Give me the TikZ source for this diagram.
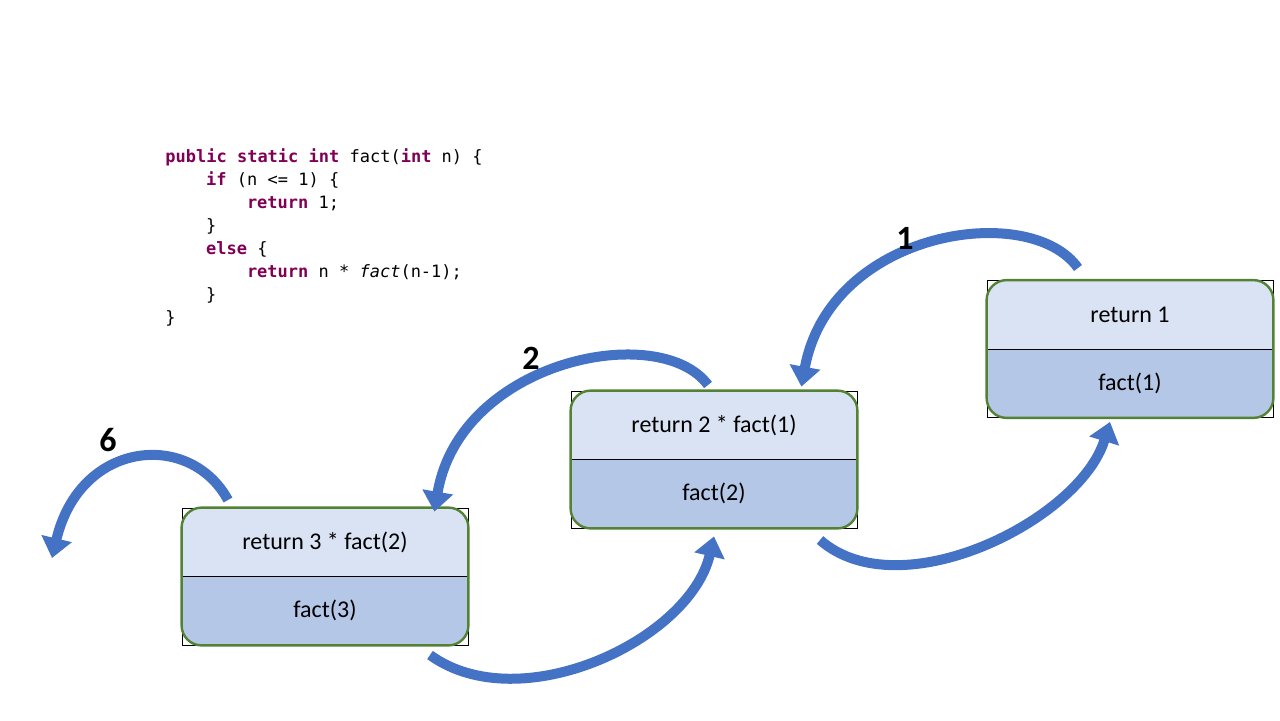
\documentclass[tikz,border=0pt]{standalone}
\usepackage{fontspec}
\setmainfont{Carlito}
\newfontfamily\codefont{DejaVu Sans Mono}
\usetikzlibrary{arrows.meta}
\definecolor{topfill}{HTML}{DAE3F3}
\definecolor{botfill}{HTML}{B4C7E7}
\definecolor{frame}{HTML}{548235}
\definecolor{arrowblue}{HTML}{4472C4}
\definecolor{kw}{HTML}{7F0055}
\newcommand{\kw}[1]{\textcolor{kw}{\bfseries #1}}
\newcommand{\callbox}[4]{%
  \node[outer] (#1) at (#2) {};
  \begin{scope}
    \clip[rounded corners=10pt] (#1.south west) rectangle (#1.north east);
    \fill[botfill] (#1.south west) rectangle (#1.east);
    \fill[topfill] (#1.north west) rectangle (#1.east);
  \end{scope}
  \draw[thin] (#1.west) -- (#1.east);
  \draw[frame, line width=1.2pt, rounded corners=10pt] (#1.south west) rectangle (#1.north east);
  \node[boxtext] (#1-top) at ([yshift=17pt]#1.center) {#3};
  \node[boxtext] (#1-bot) at ([yshift=-17pt]#1.center) {#4};
}
\tikzset{
  outer/.style = {draw, thin, minimum width=143pt, minimum height=68.5pt, inner sep=0pt},
  boxtext/.style = {font=\fontsize{12}{14}\selectfont},
  flow/.style = {arrowblue, line width=5pt, -{Triangle[length=10pt,width=15pt]}},
  stepnum/.style = {font=\fontsize{17}{20}\selectfont\bfseries}
}
\begin{document}
\begin{tikzpicture}[x=0.5pt, y=-0.5pt]
  \useasboundingbox (0,0) rectangle (1280,720);
  % code
  \node[anchor=north west, align=left, inner sep=0pt,
        font=\codefont\fontsize{8.5}{11.5}\selectfont] (code) at (165,148) {%
    \kw{public} \kw{static} \kw{int} fact(\kw{int} n) \{\\
    \hspace*{2.4em}\kw{if} (n <= 1) \{\\
    \hspace*{4.8em}\kw{return} 1;\\
    \hspace*{2.4em}\}\\
    \hspace*{2.4em}\kw{else} \{\\
    \hspace*{4.8em}\kw{return} n * \textit{fact}(n-1);\\
    \hspace*{2.4em}\}\\
    \}};
  % frames
  \callbox{three}{325,576.5}{return 3 * fact(2)}{fact(3)}
  \callbox{two}{714,459.5}{return 2 * fact(1)}{fact(2)}
  \callbox{one}{1130,349}{return 1}{fact(1)}
  % calls
  \coordinate (c3) at (430,655);
  \coordinate (c2) at (820,540);
  \coordinate (r1) at (1078,268);
  \coordinate (r2) at (708,385);
  \coordinate (r3) at (228,500);
  \coordinate (out) at (52,558);
  \draw[flow] (c3) .. controls (520,720) and (690,640) .. ([yshift=-4pt]two.south);
  \draw[flow] (c2) .. controls (900,610) and (1080,520) .. ([xshift=-10pt,yshift=-2pt]one.south);
  % returns
  \draw[flow] (r1) .. controls (1030,200) and (830,230) .. ([xshift=-28pt,yshift=2pt]two.north east);
  \draw[flow] (r2) .. controls (660,320) and (460,360) .. ([xshift=-17pt,yshift=-2pt]three.north east);
  \draw[flow] (r3) .. controls (190,430) and (80,440) .. (out);
  \node[stepnum] (n1) at (905,238) {1};
  \node[stepnum] (n2) at (531,358) {2};
  \node[stepnum] (n6) at (108,440) {6};
\end{tikzpicture}
\end{document}
